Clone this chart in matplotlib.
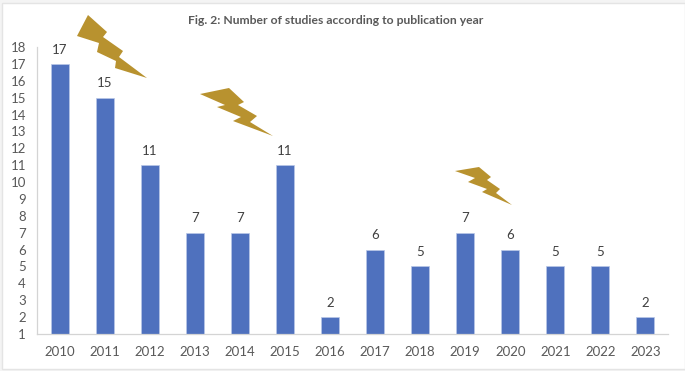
import matplotlib
matplotlib.use("Agg")
import matplotlib.pyplot as plt
from matplotlib.patches import Polygon, Rectangle

plt.rcParams["font.family"] = ["Lato", "DejaVu Sans"]

years = ["2010", "2011", "2012", "2013", "2014", "2015", "2016",
         "2017", "2018", "2019", "2020", "2021", "2022", "2023"]
studies = [17, 15, 11, 7, 7, 11, 2, 6, 5, 7, 6, 5, 5, 2]
y_ticks = list(range(1, 19))

W, H = 685, 371
fig = plt.figure(figsize=(W / 100, H / 100), dpi=100)


def pixel_box(left, top, right, bottom):
    return [left / W, 1 - bottom / H, (right - left) / W, (bottom - top) / H]


# outer frame of the pasted picture
fig.patch.set_facecolor("#f4f4f4")
fig.add_artist(Rectangle((2 / W, 1 - 369 / H), 683 / W, 366 / H, transform=fig.transFigure,
                         fc="white", ec="#e4e4e4", lw=1, zorder=-1))

ax = fig.add_axes(pixel_box(37, 47, 668, 334))
ax.patch.set_alpha(0)
x = list(range(len(years)))
ax.bar(x, studies, bottom=0, width=0.4, color="#4f71be", edgecolor="#b9c8e8", linewidth=0.5)
ax.set_xlim(-0.5, len(years) - 0.5)
ax.set_ylim(1, 18)
ax.set_xticks(x, years)
ax.set_yticks(y_ticks)
ax.tick_params(length=0, labelsize=9.5, labelcolor="#595959")
ax.tick_params(axis="x", pad=9)
ax.tick_params(axis="y", pad=8)
for side in ["top", "right"]:
    ax.spines[side].set_visible(False)
for side in ["left", "bottom"]:
    ax.spines[side].set_color("#d4d4d4")
    ax.spines[side].set_linewidth(0.9)

for i, v in zip(x, studies):
    ax.annotate(str(v), (i, v), xytext=(0, 6), textcoords="offset points",
                ha="center", va="bottom", fontsize=9.5, color="#404040")

fig.text(336 / W, 1 - 21 / H, "Fig. 2: Number of studies according to publication year",
         ha="center", va="center", fontsize=8.7, fontweight="bold", color="#595959")

# lightning decorations, outlines in image pixels
bolt_a = [(88, 15), (107, 32), (103, 37), (123, 51), (119, 57), (147, 78),
          (115, 68), (116, 61), (97, 52), (99, 43), (77, 36)]
bolt_b = [(200, 94), (229, 88), (244, 102), (238, 105), (257, 116), (250, 122),
          (273, 136), (233, 121), (241, 117), (217, 107), (225, 105)]
bolt_c = [(455, 171), (479, 167), (491, 177), (487, 180), (500, 189), (496, 193),
          (512, 205), (482, 192), (487, 189), (468, 182), (475, 178)]
for bolt in [bolt_a, bolt_b, bolt_c]:
    pts = [(px / W, 1 - py / H) for px, py in bolt]
    fig.add_artist(Polygon(pts, closed=True, transform=fig.transFigure, fc="#b8922f", ec="none"))

fig.savefig("out.png", dpi=100)
